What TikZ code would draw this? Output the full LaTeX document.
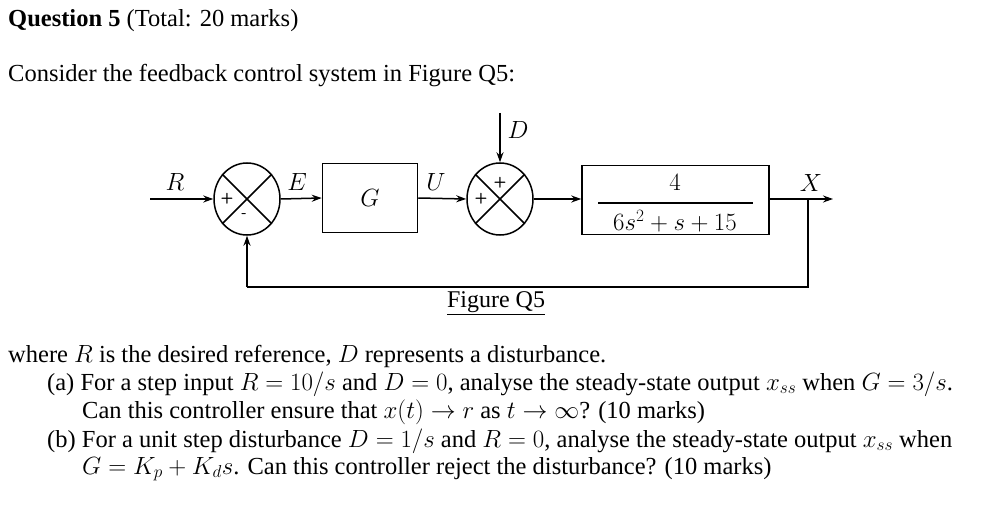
\documentclass[tikz,border=0pt]{standalone}
\usepackage{fontspec}
\setmainfont{Liberation Serif}
\usetikzlibrary{shapes.geometric,arrows.meta}
\begin{document}
\begin{tikzpicture}[x=1pt,y=1pt,
  sumj/.style={draw,line width=1.5pt,ellipse,minimum width=66pt,minimum height=72pt,inner sep=0},
  blk/.style={draw,line width=1.5pt,rectangle,inner sep=0},
  ln/.style={line width=1.5pt},
  arr/.style={line width=1.5pt,-{Stealth[length=10pt,width=7pt]}},
  lab/.style={font=\fontsize{24}{28}\selectfont},
  sgn/.style={font=\sffamily\bfseries\fontsize{15}{17}\selectfont},
  txt/.style={anchor=base west,inner sep=0,font=\fontsize{24.5}{28}\selectfont}]
\useasboundingbox (0,0) rectangle (990,-505);
\node[txt] (q) at (8,-27) {\textbf{Question 5} (Total: 20 marks)};
\node[txt] (c) at (8,-82) {Consider the feedback control system in Figure Q5:};
% diagram
\coordinate (rin) at (150,-199);
\node[sumj] (s1) at (247,-199) {};
\draw[ln] (s1.45)--(s1.225) (s1.135)--(s1.315);
\node[blk,minimum width=95pt,minimum height=69pt] (g) at (370,-198) {\fontsize{25}{28}\selectfont$G$};
\node[sumj] (s2) at (500,-199) {};
\draw[ln] (s2.45)--(s2.225) (s2.135)--(s2.315);
\node[blk,minimum width=187pt,minimum height=69pt] (p) at (675.5,-200) {};
\node[lab] (num) at (675,-182) {$4$};
\node[lab] (den) at (675,-221) {$6s^2+s+15$};
\draw[ln] (598,-203)--(753,-203);
\coordinate (tap) at (808,-199);
\coordinate (xout) at (833,-199);
\coordinate (din) at (500,-113);
\coordinate (fb) at (808,-287);
\coordinate (fb2) at (247,-287);
\draw[arr] (rin)--(s1.west);
\draw[arr] (s1.east)--(g.west);
\draw[arr] (g.east)--(s2.west);
\draw[arr] (s2.east)--(s2.east -| p.west);
\draw[arr] (p.east |- tap)--(xout);
\draw[arr] (din)--(s2.north);
\draw[ln] (tap)--(fb)--(fb2);
\draw[arr] (fb2)--(s1.south);
\node[lab] (lr) at (175,-182) {$R$};
\node[lab] (le) at (297,-182) {$E$};
\node[lab] (lu) at (436,-182) {$U$};
\node[lab] (lx) at (811,-183) {$X$};
\node[lab] (ld) at (518,-130) {$D$};
\node[sgn] (p1) at (227,-199) {+};
\node[sgn] (m1) at (244,-216) {-};
\node[sgn] (p2) at (500,-183) {+};
\node[sgn] (p3) at (481,-199) {+};
\node[font=\fontsize{24}{28}\selectfont] (fig) at (496,-303) {\underline{Figure Q5}};
% text
\node[txt] (w) at (8,-362) {where $R$ is the desired reference, $D$ represents a disturbance.};
\node[txt] (a1) at (47,-390) {(a) For a step input $R=10/s$ and $D=0$, analyse the steady-state output $x_{ss}$ when $G=3/s$.};
\node[txt] (a2) at (82,-418) {Can this controller ensure that $x(t)\rightarrow r$ as $t\rightarrow\infty$? (10 marks)};
\node[txt] (b1) at (47,-447) {(b) For a unit step disturbance $D=1/s$ and $R=0$, analyse the steady-state output $x_{ss}$ when};
\node[txt] (b2) at (82,-474) {$G=K_p+K_d s$. Can this controller reject the disturbance? (10 marks)};
\end{tikzpicture}
\end{document}
